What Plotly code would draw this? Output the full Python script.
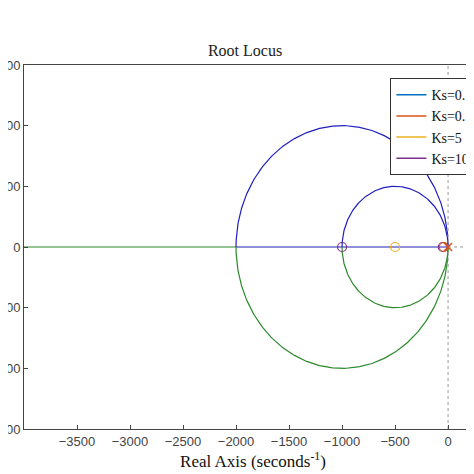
import numpy as np
import plotly.graph_objects as go

circle_centers = [-1000, -500]
circle_radii = [1000, 500]
zeros_x = [-1000, -500, -50, -40]
zeros_col = ["#7E2F8E", "#EDB120", "#7E2F8E", "#D95319"]
legend_names = ["Ks=0.1", "Ks=0.5", "Ks=5", "Ks=10"]
legend_cols = ["#0072BD", "#D95319", "#EDB120", "#7E2F8E"]
x_ticks = [-4000, -3500, -3000, -2500, -2000, -1500, -1000, -500, 0]
y_ticks = [-1500, -1000, -500, 0, 500, 1000, 1500]

fig = go.Figure()
for n, c in zip(legend_names, legend_cols):
    fig.add_trace(go.Scatter(x=[None], y=[None], mode="lines", name=n, line=dict(color=c, width=1.5)))

fig.add_trace(go.Scatter(x=[-4000, -2000], y=[0, 0], mode="lines", line=dict(color="#2a8a2a", width=1.2), showlegend=False))
fig.add_trace(go.Scatter(x=[-2000, 0], y=[0, 0], mode="lines", line=dict(color="#2020b0", width=1.2), showlegend=False))
t = np.linspace(0, np.pi, 200)
for cx, r in zip(circle_centers, circle_radii):
    fig.add_trace(go.Scatter(x=cx + r*np.cos(t), y=r*np.sin(t), mode="lines", line=dict(color="#2020c0", width=1.2), showlegend=False))
    fig.add_trace(go.Scatter(x=cx + r*np.cos(t), y=-r*np.sin(t), mode="lines", line=dict(color="#2a8a2a", width=1.2), showlegend=False))
fig.add_trace(go.Scatter(x=[0, 320], y=[0, 0], mode="lines", line=dict(color="#999", width=1, dash="dot"), showlegend=False))
fig.add_trace(go.Scatter(x=[0, 0], y=[-1500, 1500], mode="lines", line=dict(color="#999", width=1, dash="dot"), showlegend=False))
for zx, zc in zip(zeros_x, zeros_col):
    fig.add_trace(go.Scatter(x=[zx], y=[0], mode="markers", marker=dict(symbol="circle-open", size=9, color=zc, line=dict(width=1.2)), showlegend=False))
fig.add_trace(go.Scatter(x=[0], y=[0], mode="markers", marker=dict(symbol="x-thin-open", size=8, color="#D95319", line=dict(width=1.5)), showlegend=False))

fig.update_layout(
    width=474, height=474, plot_bgcolor="white", paper_bgcolor="white",
    margin=dict(l=16, r=0, t=57, b=53, autoexpand=False),
    title=dict(text="Root Locus", x=0.5, xanchor="center", y=0.91, yanchor="middle",
               font=dict(family="Liberation Serif", size=16, color="#222")),
    font=dict(family="Liberation Sans", size=13, color="#444"),
    legend=dict(x=0.80, y=0.964, xanchor="left", yanchor="top", bgcolor="white",
                bordercolor="#333", borderwidth=1, font=dict(family="Liberation Serif", size=14, color="#111"),
                tracegroupgap=0),
    xaxis=dict(range=[-4000, 320], tickvals=x_ticks, ticks="inside", ticklen=4, tickcolor="#444",
               showgrid=False, zeroline=False, showline=True, linecolor="#444", mirror=True, automargin=False,
               title=dict(text="Real Axis (seconds<sup>-1</sup>)", font=dict(family="Liberation Serif", size=17, color="#111"), standoff=4)),
    yaxis=dict(range=[-1500, 1500], tickvals=y_ticks, ticks="inside", ticklen=4, tickcolor="#444",
               showgrid=False, zeroline=False, showline=True, linecolor="#444", automargin=False),
)
fig.write_html("out.html")
